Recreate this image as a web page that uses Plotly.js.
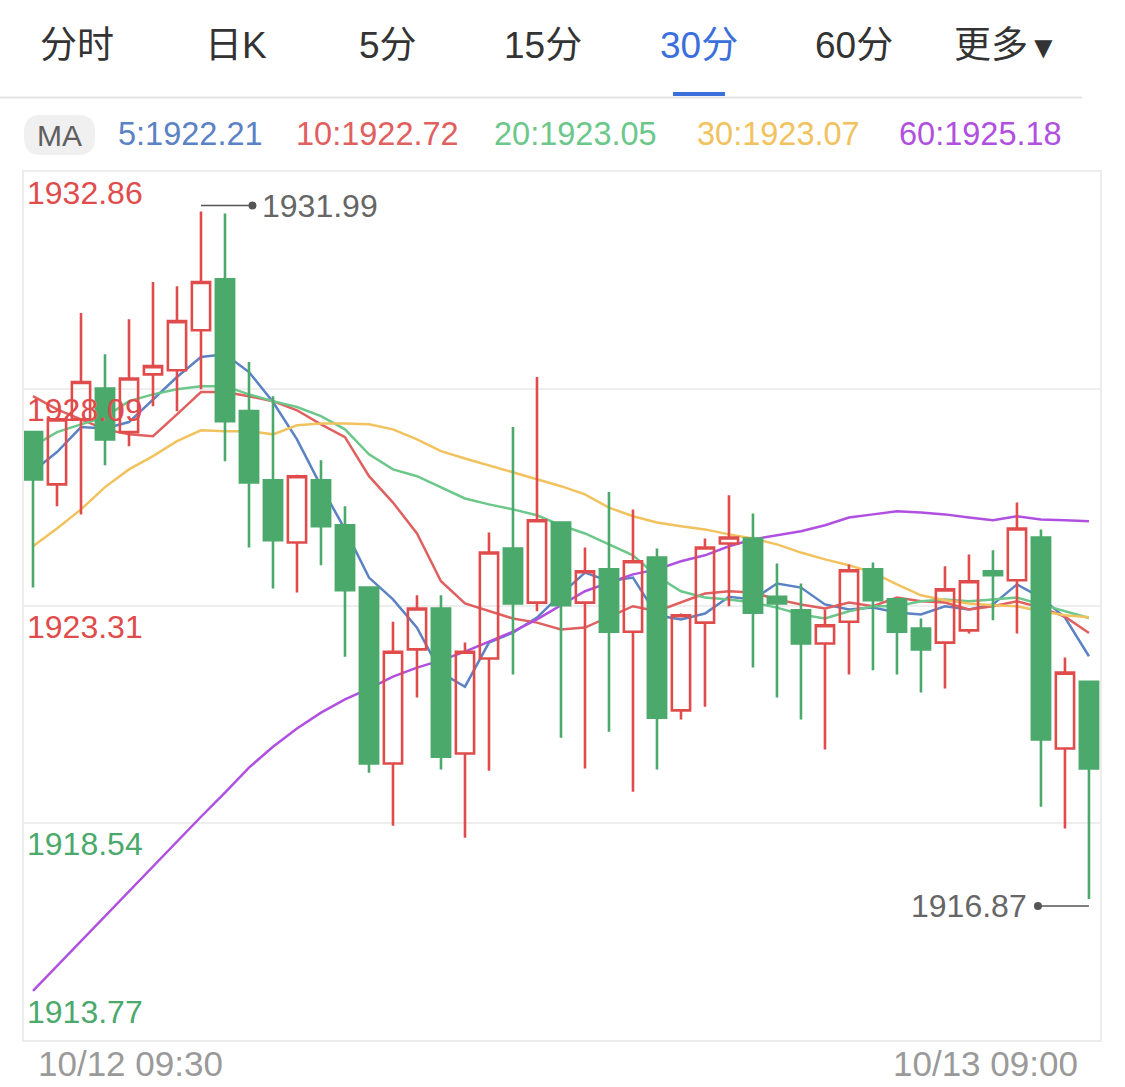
<!DOCTYPE html>
<html>
<head>
<meta charset="utf-8">
<script src="https://cdn.plot.ly/plotly-3.0.1.min.js"></script>
<style>
html,body{margin:0;padding:0;background:#ffffff;}
#chart{width:1125px;height:1087px;}
</style>
</head>
<body>
<div id="chart"></div>
<script>
// ---------- data ----------
const tabs = ['分时', '日K', '5分', '15分', '30分', '60分', '更多▼'];
const activeTab = '30分';
const maPeriods = ['5', '10', '20', '30', '60'];
const maLatest = ['1922.21', '1922.72', '1923.05', '1923.07', '1925.18'];
const yTickValues = [1913.77, 1918.54, 1923.31, 1928.09, 1932.86];
const timeLabels = ['10/12 09:30', '10/13 09:00'];

const opens = [1927.14, 1925.99, 1927.42, 1928.10, 1927.14, 1928.41, 1928.50, 1929.38, 1930.50, 1927.60,
  1926.08, 1924.71, 1926.08, 1925.09, 1923.72, 1919.85, 1922.36, 1923.26, 1920.07, 1922.16,
  1924.58, 1923.39, 1925.15, 1923.39, 1924.12, 1922.75, 1924.38, 1921.02, 1922.95, 1924.69,
  1924.80, 1923.52, 1923.22, 1922.49, 1922.97, 1924.12, 1923.46, 1922.82, 1922.51, 1922.78,
  1924.08, 1923.88, 1924.82, 1920.18, 1921.65];
const highs = [1927.14, 1927.47, 1929.76, 1928.85, 1929.62, 1930.44, 1930.35, 1931.99, 1931.95, 1928.68,
  1927.93, 1926.20, 1926.52, 1925.51, 1923.74, 1922.97, 1923.55, 1923.55, 1922.51, 1924.93,
  1927.25, 1928.35, 1925.17, 1924.60, 1925.82, 1925.44, 1924.58, 1923.15, 1924.80, 1925.75,
  1925.35, 1924.25, 1923.81, 1923.24, 1924.23, 1924.27, 1923.48, 1923.04, 1924.19, 1924.45,
  1924.54, 1925.59, 1925.00, 1922.18, 1921.65];
const lows = [1923.72, 1925.51, 1925.33, 1926.41, 1926.83, 1927.71, 1927.60, 1928.08, 1926.50, 1924.60,
  1923.70, 1923.61, 1924.21, 1922.20, 1919.65, 1918.48, 1921.30, 1919.72, 1918.22, 1919.69,
  1921.81, 1923.20, 1920.42, 1919.74, 1920.55, 1919.23, 1919.72, 1920.82, 1921.10, 1923.31,
  1921.96, 1921.30, 1920.82, 1920.16, 1921.81, 1921.90, 1921.81, 1921.41, 1921.50, 1922.71,
  1923.00, 1922.71, 1918.90, 1918.42, 1916.87];
const closes = [1926.10, 1927.42, 1928.24, 1926.98, 1928.32, 1928.59, 1929.58, 1930.44, 1927.38, 1926.03,
  1924.76, 1926.17, 1925.07, 1923.66, 1919.85, 1922.31, 1923.26, 1920.00, 1922.31, 1924.49,
  1923.37, 1925.20, 1923.33, 1924.08, 1922.75, 1924.30, 1920.86, 1923.11, 1924.60, 1924.82,
  1923.17, 1923.37, 1922.49, 1922.89, 1924.10, 1923.44, 1922.75, 1922.36, 1923.68, 1923.86,
  1923.99, 1925.02, 1920.38, 1921.85, 1919.74];

const ma5 = [1926.28, 1926.70, 1927.25, 1927.22, 1927.36, 1927.86, 1928.35, 1928.79, 1928.85, 1928.46,
  1927.80, 1926.98, 1925.95, 1925.00, 1923.94, 1923.46, 1922.84, 1921.85, 1921.54, 1922.51,
  1922.73, 1923.06, 1923.57, 1924.05, 1923.86, 1923.94, 1923.11, 1923.02, 1923.15, 1923.52,
  1923.46, 1923.81, 1923.72, 1923.35, 1923.24, 1923.28, 1923.17, 1923.13, 1923.31, 1923.24,
  1923.35, 1923.79, 1923.50, 1923.06, 1922.21];
const ma10 = [1927.93, 1927.64, 1927.42, 1927.20, 1927.09, 1927.05, 1927.53, 1928.02, 1928.02, 1927.93,
  1927.82, 1927.62, 1927.31, 1927.03, 1926.17, 1925.59, 1924.91, 1923.86, 1923.37, 1923.20,
  1923.04, 1922.95, 1922.80, 1922.84, 1923.08, 1923.31, 1923.20, 1923.39, 1923.59, 1923.64,
  1923.61, 1923.46, 1923.35, 1923.26, 1923.39, 1923.31, 1923.50, 1923.42, 1923.39, 1923.24,
  1923.31, 1923.42, 1923.28, 1923.08, 1922.72];
const ma20 = [1926.83, 1927.14, 1927.31, 1927.47, 1927.82, 1927.97, 1928.08, 1928.15, 1928.15, 1927.97,
  1927.82, 1927.69, 1927.49, 1927.20, 1926.65, 1926.32, 1926.17, 1925.93, 1925.68, 1925.55,
  1925.44, 1925.31, 1925.09, 1924.91, 1924.67, 1924.43, 1923.97, 1923.64, 1923.50, 1923.46,
  1923.39, 1923.28, 1923.13, 1923.04, 1923.20, 1923.31, 1923.31, 1923.42, 1923.46, 1923.42,
  1923.46, 1923.50, 1923.35, 1923.20, 1923.05];
const ma30 = [1924.63, 1925.02, 1925.44, 1925.93, 1926.32, 1926.61, 1926.94, 1927.18, 1927.16, 1927.16,
  1927.09, 1927.29, 1927.33, 1927.33, 1927.31, 1927.20, 1926.98, 1926.72, 1926.56, 1926.41,
  1926.25, 1926.10, 1925.95, 1925.77, 1925.48, 1925.29, 1925.15, 1925.07, 1925.00, 1924.89,
  1924.80, 1924.67, 1924.49, 1924.34, 1924.21, 1924.05, 1923.79, 1923.55, 1923.44, 1923.37,
  1923.33, 1923.31, 1923.20, 1923.11, 1923.07];
const ma60 = [1914.85, 1915.40, 1915.95, 1916.50, 1917.03, 1917.58, 1918.13, 1918.68, 1919.21, 1919.76,
  1920.22, 1920.62, 1920.97, 1921.26, 1921.50, 1921.76, 1921.96, 1922.12, 1922.31, 1922.53,
  1922.75, 1923.02, 1923.33, 1923.64, 1923.83, 1924.01, 1924.12, 1924.30, 1924.43, 1924.63,
  1924.78, 1924.87, 1924.96, 1925.09, 1925.26, 1925.33, 1925.40, 1925.37, 1925.33, 1925.26,
  1925.20, 1925.29, 1925.22, 1925.20, 1925.18];

// ---------- styling ----------
const FONT = 'Liberation Sans, Arial, "Noto Sans CJK SC", sans-serif';
const RED = '#e04c4c';
const GREEN = '#4aa96b';
const MA_COLORS = ['#5b82c5', '#e0605f', '#6cc78a', '#f1c25e', '#b050e0'];
const BLUE_TAB = '#3b6fdb';

const L = 24, R = 1100, T = 172, B = 1040;
const px = x => (x - L) / (R - L);
const py = y => (B - y) / (B - T);

const idx = opens.map((_, i) => i);
const xRange = [-0.375, 44.46];
const yRange = [yTickValues[0], yTickValues[yTickValues.length - 1]];

// ---------- traces ----------
const maSeries = [ma5, ma10, ma20, ma30, ma60];
const traces = maSeries.map((s, k) => ({
  type: 'scatter', mode: 'lines', x: idx, y: s,
  xaxis: 'x', yaxis: 'y',
  line: {color: MA_COLORS[k], width: 2.5},
  hoverinfo: 'skip', showlegend: false
}));
traces.push({
  type: 'candlestick', x: idx, open: opens, high: highs, low: lows, close: closes,
  xaxis: 'x2', yaxis: 'y2',
  increasing: {line: {color: RED, width: 2.6}, fillcolor: 'rgba(255,255,255,0)'},
  decreasing: {line: {color: GREEN, width: 2.6}, fillcolor: GREEN},
  whiskerwidth: 0, hoverinfo: 'skip', showlegend: false
});

// ---------- annotations ----------
const annotations = [];
const tabCenters = [77, 236, 388, 543, 699, 854, 1006];
tabs.forEach((t, i) => {
  let label = t;
  if (t.endsWith('▼')) {
    label = t.slice(0, -1) + '<span style="font-size:31px">' + t.slice(-1) + '</span>';
  }
  annotations.push({
    xref: 'paper', yref: 'paper', x: px(tabCenters[i]), y: py(46),
    xanchor: 'center', yanchor: 'middle', showarrow: false, text: label,
    font: {family: FONT, size: 37, color: t === activeTab ? BLUE_TAB : '#333333'}
  });
});
annotations.push({
  xref: 'paper', yref: 'paper', x: px(59.5), y: py(135),
  xanchor: 'center', yanchor: 'middle', showarrow: false, text: 'MA',
  font: {family: FONT, size: 30, color: '#5f5f5f'}
});
const maLefts = [116, 294, 492, 695, 897];
maPeriods.forEach((p, k) => {
  annotations.push({
    xref: 'paper', yref: 'paper', x: px(maLefts[k]), y: py(134.5),
    xanchor: 'left', yanchor: 'middle', showarrow: false, text: p + ':' + maLatest[k],
    font: {family: FONT, size: 32.5, color: MA_COLORS[k]}
  });
});
yTickValues.forEach((v, i) => {
  const bottom = i === 0;
  annotations.push({
    xref: 'paper', yref: 'y', x: 0, y: v, xanchor: 'left', yanchor: 'middle',
    xshift: 1, yshift: bottom ? 28.5 : -21, showarrow: false, text: v.toFixed(2),
    font: {family: FONT, size: 32, color: i <= 1 ? GREEN : RED}
  });
});
annotations.push({
  xref: 'x', yref: 'paper', x: idx[0], y: py(1063.5), xanchor: 'left', yanchor: 'middle',
  xshift: 3, showarrow: false, text: timeLabels[0],
  font: {family: FONT, size: 35, color: '#9a9a9a'}
});
annotations.push({
  xref: 'x', yref: 'paper', x: idx[idx.length - 1], y: py(1063.5), xanchor: 'right', yanchor: 'middle',
  xshift: -9, showarrow: false, text: timeLabels[1],
  font: {family: FONT, size: 35, color: '#9a9a9a'}
});

const hiVal = Math.max(...highs), hiIdx = highs.indexOf(hiVal);
const loVal = Math.min(...lows), loIdx = lows.indexOf(loVal);
annotations.push({
  xref: 'x', yref: 'y', x: hiIdx, y: hiVal, xanchor: 'left', yanchor: 'middle',
  xshift: 59, yshift: 6, showarrow: false, text: hiVal.toFixed(2),
  font: {family: FONT, size: 32, color: '#666666'}
});
annotations.push({
  xref: 'x', yref: 'y', x: loIdx, y: loVal, xanchor: 'right', yanchor: 'middle',
  xshift: -60, yshift: -7, showarrow: false, text: loVal.toFixed(2),
  font: {family: FONT, size: 32, color: '#666666'}
});

// ---------- shapes ----------
function roundRect(x0, y0, x1, y1, r) {
  const X = v => px(v).toFixed(5), Y = v => py(v).toFixed(5);
  return 'M' + X(x0 + r) + ',' + Y(y0) +
    ' L' + X(x1 - r) + ',' + Y(y0) + ' Q' + X(x1) + ',' + Y(y0) + ' ' + X(x1) + ',' + Y(y0 + r) +
    ' L' + X(x1) + ',' + Y(y1 - r) + ' Q' + X(x1) + ',' + Y(y1) + ' ' + X(x1 - r) + ',' + Y(y1) +
    ' L' + X(x0 + r) + ',' + Y(y1) + ' Q' + X(x0) + ',' + Y(y1) + ' ' + X(x0) + ',' + Y(y1 - r) +
    ' L' + X(x0) + ',' + Y(y0 + r) + ' Q' + X(x0) + ',' + Y(y0) + ' ' + X(x0 + r) + ',' + Y(y0) + ' Z';
}
const shapes = [
  {type: 'line', xref: 'paper', yref: 'paper', x0: px(0), x1: px(1082), y0: py(97.5), y1: py(97.5),
   line: {color: '#e4e4e4', width: 2}},
  {type: 'rect', xref: 'paper', yref: 'paper', x0: px(673), x1: px(725), y0: py(92), y1: py(96),
   fillcolor: BLUE_TAB, line: {width: 0}},
  {type: 'path', xref: 'paper', yref: 'paper', path: roundRect(24, 115, 95, 155, 17),
   fillcolor: '#f0f0f0', line: {width: 0}},
  // high marker
  {type: 'line', xref: 'x', yref: 'y', xsizemode: 'pixel', ysizemode: 'pixel',
   xanchor: hiIdx, yanchor: hiVal, x0: 0, x1: 50, y0: 6, y1: 6, line: {color: '#555555', width: 1.5}},
  {type: 'circle', xref: 'x', yref: 'y', xsizemode: 'pixel', ysizemode: 'pixel',
   xanchor: hiIdx, yanchor: hiVal, x0: 47.5, x1: 55.5, y0: 2, y1: 10, fillcolor: '#555555', line: {width: 0}},
  // low marker
  {type: 'line', xref: 'x', yref: 'y', xsizemode: 'pixel', ysizemode: 'pixel',
   xanchor: loIdx, yanchor: loVal, x0: -49, x1: 0, y0: -7, y1: -7, line: {color: '#555555', width: 1.5}},
  {type: 'circle', xref: 'x', yref: 'y', xsizemode: 'pixel', ysizemode: 'pixel',
   xanchor: loIdx, yanchor: loVal, x0: -55, x1: -47, y0: -11, y1: -3, fillcolor: '#555555', line: {width: 0}}
];

const layout = {
  width: 1125, height: 1087,
  margin: {l: L, r: 1125 - R, t: T, b: 1087 - B, pad: 0},
  paper_bgcolor: '#ffffff', plot_bgcolor: '#ffffff',
  showlegend: false,
  boxgap: 0.24, boxgroupgap: 0,
  xaxis: {range: xRange, showgrid: false, zeroline: false, showticklabels: false, ticks: '',
          showline: true, mirror: true, linecolor: '#ececec', linewidth: 2, fixedrange: true},
  yaxis: {range: yRange, tickvals: yTickValues, showticklabels: false, ticks: '',
          showgrid: true, gridcolor: '#eeeeee', gridwidth: 1.5, zeroline: false,
          showline: true, mirror: true, linecolor: '#ececec', linewidth: 2, fixedrange: true},
  xaxis2: {overlaying: 'x', range: xRange, showgrid: false, zeroline: false, showticklabels: false,
           ticks: '', showline: false, rangeslider: {visible: false}, fixedrange: true},
  yaxis2: {overlaying: 'y', range: yRange, showgrid: false, zeroline: false, showticklabels: false,
           ticks: '', showline: false, fixedrange: true},
  annotations: annotations,
  shapes: shapes
};

Plotly.newPlot('chart', traces, layout, {staticPlot: true, displayModeBar: false});
</script>
</body>
</html>
